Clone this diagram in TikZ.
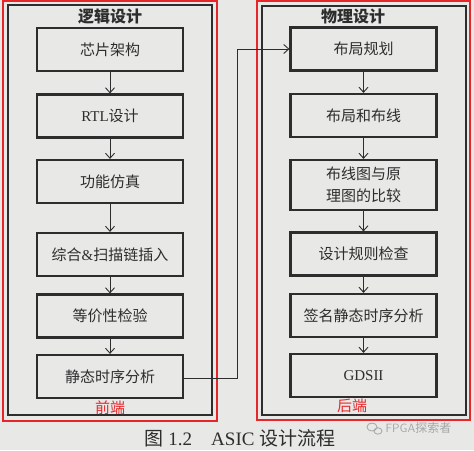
\documentclass[tikz,border=0pt]{standalone}
\usepackage{fontspec}
\setmainfont{Liberation Serif}
\newfontfamily\cjk{Noto Sans CJK SC}
\usetikzlibrary{arrows.meta}
\definecolor{paper}{RGB}{232,232,230}
\definecolor{ink}{RGB}{45,45,45}
\definecolor{hilite}{RGB}{232,38,42}
\begin{document}
\begin{tikzpicture}[x=1pt,y=-1pt]
      \tikzstyle{stage} = [draw=ink,line width=2.2pt,fill=paper,text=ink,minimum width=146pt,minimum height=43pt,inner sep=0pt,align=center,font=\cjk\fontsize{15}{22}\selectfont];
      \tikzstyle{panel} = [draw=ink,line width=1.8pt];
      \tikzstyle{redbox} = [draw=hilite,line width=2.6pt];
      \tikzstyle{flow} = [draw=ink,line width=0.9pt,-{Straight Barb[length=5pt,width=9pt]}];
      \tikzstyle{title} = [text=ink,font=\cjk\bfseries\fontsize{16}{18}\selectfont];
      \tikzstyle{side} = [text=hilite,font=\cjk\fontsize{15}{16}\selectfont];
      \useasboundingbox (0,0) rectangle (474,450);
      \fill[paper] (0,0) rectangle (474,450);
      % panels
      \draw[panel] (8,5) rectangle (212,415);
      \draw[panel] (262,6) rectangle (466,415);
      \draw[redbox] (3,1) rectangle (217,421);
      \draw[redbox] (257,1) rectangle (470,420);
      \node[title] (fronttitle) at (110,16) {逻辑设计};
      \node[title] (backtitle) at (353,16) {物理设计};
      % front end
      \node[stage] (front1) at (110,49.5) {芯片架构};
      \node[stage] (front2) at (110,116) {{\rmfamily RTL}设计};
      \node[stage] (front3) at (110,181.5) {功能仿真};
      \node[stage] (front4) at (110,254.5) {综合{\rmfamily\&}扫描链插入};
      \node[stage] (front5) at (110,316) {等价性检验};
      \node[stage] (front6) at (110,376.5) {静态时序分析};
      % back end
      \node[stage] (back1) at (363.5,49) {布局规划};
      \node[stage] (back2) at (363.5,115.5) {布局和布线};
      \node[stage,minimum height=50pt] (back3) at (363.5,185) {布线图与原\\理图的比较};
      \node[stage] (back4) at (363.5,254) {设计规则检查};
      \node[stage] (back5) at (363.5,315.5) {签名静态时序分析};
      \node[stage] (back6) at (363.5,375.5) {{\rmfamily GDSII}};
      \foreach \i [count=\j from 2] in {1,...,5} {
        \draw[flow] (front\i) -- (front\j);
        \draw[flow] (back\i) -- (back\j);
      }
      \coordinate (turn) at (237,378);
      \draw[flow] (front6.east |- turn) -- (turn) |- (back1.west);
      \node[side] (frontlabel) at (110,408) {前端};
      \node[side] (backlabel) at (352,406) {后端};
      % caption
      \node[text=ink,font=\fontsize{19}{22}\selectfont] (caption) at (240,438) {{\cjk 图} 1.2\hspace{1em}ASIC {\cjk 设计流程}};
      \node[text=black!35,font=\sffamily\fontsize{12}{14}\selectfont,anchor=west] (mark) at (382,428) {FPGA{\cjk 探索者}};
      \draw[black!35,line width=0.8pt] (372,427) ellipse (5pt and 4pt) (378,431) ellipse (4pt and 3.2pt);
\end{tikzpicture}
\end{document}
